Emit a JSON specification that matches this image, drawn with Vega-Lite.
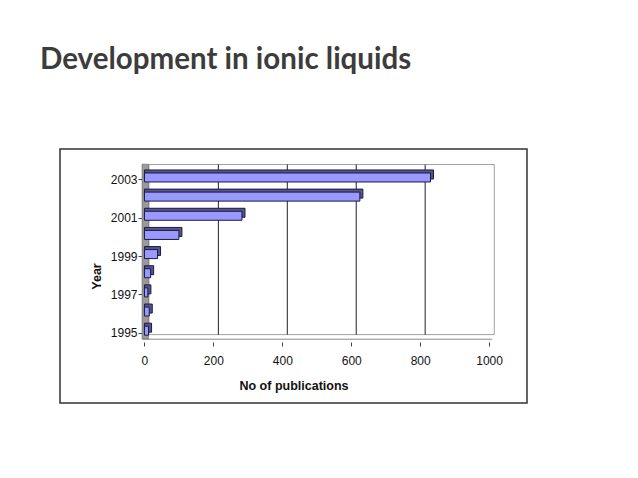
{
  "$schema": "https://vega.github.io/schema/vega-lite/v6.json",
  "autosize": {"type": "none"},
  "width": 467,
  "height": 254,
  "padding": {"left": 60, "top": 149, "right": 111, "bottom": 75},
  "background": "white",
  "title": {
    "text": "Development in ionic liquids",
    "anchor": "start",
    "frame": "group",
    "dx": -20,
    "offset": 51,
    "baseline": "alphabetic",
    "font": "Lato",
    "fontSize": 29.5,
    "fontWeight": "bold",
    "color": "#3c3c3c"
  },
  "data": {
    "values": [
      {"Year": 1995, "Publications": 12},
      {"Year": 1996, "Publications": 14},
      {"Year": 1997, "Publications": 10},
      {"Year": 1998, "Publications": 18},
      {"Year": 1999, "Publications": 38},
      {"Year": 2000, "Publications": 100},
      {"Year": 2001, "Publications": 283},
      {"Year": 2002, "Publications": 625},
      {"Year": 2003, "Publications": 830}
    ]
  },
  "layer": [
    {
      "data": {"values": [{}]},
      "mark": {"type": "rect", "fill": "white", "stroke": "#a0a0a0", "strokeWidth": 1},
      "encoding": {
        "x": {"datum": 13},
        "x2": {"datum": 1015},
        "y": {"datum": 1994.9},
        "y2": {"datum": 2003.78}
      }
    },
    {
      "data": {"values": [{}]},
      "mark": {"type": "rule", "color": "#222222", "strokeWidth": 1, "xOffset": 5},
      "encoding": {"x": {"datum": 200}, "y": {"datum": 1994.9}, "y2": {"datum": 2003.78}}
    },
    {
      "data": {"values": [{}]},
      "mark": {"type": "rule", "color": "#222222", "strokeWidth": 1, "xOffset": 5},
      "encoding": {"x": {"datum": 400}, "y": {"datum": 1994.9}, "y2": {"datum": 2003.78}}
    },
    {
      "data": {"values": [{}]},
      "mark": {"type": "rule", "color": "#222222", "strokeWidth": 1, "xOffset": 5},
      "encoding": {"x": {"datum": 600}, "y": {"datum": 1994.9}, "y2": {"datum": 2003.78}}
    },
    {
      "data": {"values": [{}]},
      "mark": {"type": "rule", "color": "#222222", "strokeWidth": 1, "xOffset": 5},
      "encoding": {"x": {"datum": 800}, "y": {"datum": 1994.9}, "y2": {"datum": 2003.78}}
    },
    {
      "data": {"values": [{}]},
      "mark": {"type": "rect", "fill": "#9a9a9a", "stroke": "#555555", "strokeWidth": 0.5},
      "encoding": {
        "x": {"datum": -7},
        "x2": {"datum": 12},
        "y": {"datum": 1994.66},
        "y2": {"datum": 2003.8}
      }
    },
    {
      "data": {"values": [{}]},
      "mark": {"type": "rule", "color": "#888888", "strokeWidth": 1},
      "encoding": {"x": {"datum": -4}, "x2": {"datum": 1009}, "y": {"datum": 1994.66}}
    },
    {
      "mark": {
        "type": "bar",
        "orient": "horizontal",
        "size": 9,
        "fill": "#55558c",
        "stroke": "#1a1a40",
        "strokeWidth": 1,
        "xOffset": 3,
        "yOffset": -5
      },
      "encoding": {
        "y": {"field": "Year", "type": "quantitative"},
        "x": {"field": "Publications", "type": "quantitative"},
        "x2": {"datum": 0}
      }
    },
    {
      "mark": {
        "type": "bar",
        "orient": "horizontal",
        "size": 9,
        "fill": "#9999ff",
        "stroke": "#1a1a40",
        "strokeWidth": 1,
        "yOffset": -2
      },
      "encoding": {
        "y": {
          "field": "Year",
          "type": "quantitative",
          "scale": {"domain": [1991.59, 2004.33], "zero": false, "nice": false},
          "axis": {
            "values": [1995, 1996, 1997, 1998, 1999, 2000, 2001, 2002, 2003],
            "format": "d",
            "labelExpr": "datum.value % 2 == 1 ? datum.label : ''",
            "offset": -82,
            "domain": false,
            "grid": false,
            "tickSize": 4,
            "labelPadding": 1,
            "title": "Year",
            "titlePadding": 7
          }
        },
        "x": {
          "field": "Publications",
          "type": "quantitative",
          "scale": {"domain": [-245, 1110], "zero": false, "nice": false},
          "axis": {
            "values": [0, 200, 400, 600, 800, 1000],
            "format": "d",
            "offset": -61,
            "domain": false,
            "grid": false,
            "tickSize": 4,
            "labelPadding": 9,
            "title": "No of publications",
            "titlePadding": 13
          }
        },
        "x2": {"datum": 0}
      }
    }
  ],
  "config": {
    "view": {"stroke": "#333333", "strokeWidth": 1.5},
    "axis": {
      "labelFont": "Liberation Sans",
      "labelFontSize": 12,
      "labelColor": "#111111",
      "tickColor": "#444444",
      "titleFont": "Liberation Sans",
      "titleFontSize": 12.5,
      "titleFontWeight": "bold",
      "titleColor": "#111111"
    }
  }
}
